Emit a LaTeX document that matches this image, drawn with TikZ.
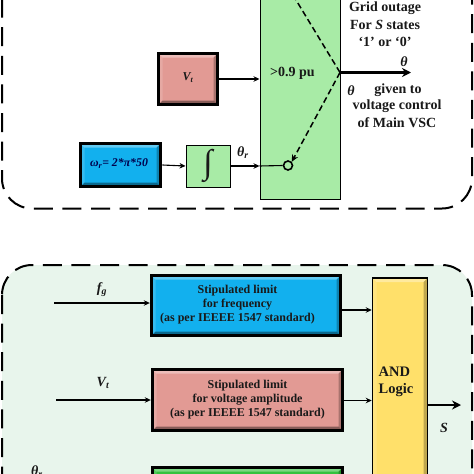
\documentclass[tikz,border=0pt]{standalone}
\usepackage{fontspec}
\setmainfont{Liberation Serif}
\usetikzlibrary{arrows.meta,calc}
\definecolor{panelbg}{HTML}{E8F5EC}
\definecolor{blueb}{HTML}{12B0EE}
\definecolor{pinkb}{HTML}{E29A94}
\definecolor{greenb}{HTML}{A8EBA6}
\definecolor{greenc}{HTML}{33C23F}
\definecolor{yellowb}{HTML}{FFE06A}
\tikzset{
  every node/.style={font=\bfseries\fontsize{12}{14}\selectfont,text=black!90,align=center,inner sep=0pt},
  panel/.style={draw=black,line width=2pt,dash pattern=on 19pt off 9.6pt,rounded corners=30pt},
  bevel/.style={draw=black,line width=#1,
    path picture={
      \fill[white,opacity=.35] (path picture bounding box.north west) -- (path picture bounding box.north east) -- ++(-4pt,-4pt) -- ($(path picture bounding box.north west)+(4pt,-4pt)$) -- cycle;
      \fill[white,opacity=.15] (path picture bounding box.north west) -- (path picture bounding box.south west) -- ++(4pt,4pt) -- ($(path picture bounding box.north west)+(4pt,-4pt)$) -- cycle;
      \fill[black,opacity=.4] (path picture bounding box.south west) -- (path picture bounding box.south east) -- ++(-4pt,4pt) -- ($(path picture bounding box.south west)+(4pt,4pt)$) -- cycle;
      \fill[black,opacity=.25] (path picture bounding box.north east) -- (path picture bounding box.south east) -- ++(-4pt,4pt) -- ($(path picture bounding box.north east)+(-4pt,-4pt)$) -- cycle;
    }},
  conn/.style={draw=black,line width=1.1pt,-{Stealth[length=6pt,width=5.5pt]}},
  thick conn/.style={draw=black,line width=2.6pt,-{Stealth[length=9pt,width=9pt]}},
  dconn/.style={draw=black,line width=1.5pt,dash pattern=on 6pt off 3.4pt},
  sym/.style={font=\bfseries\itshape\fontsize{14}{14}\selectfont},
  tag/.style={font=\bfseries\fontsize{14}{16.5}\selectfont},
}
\begin{document}
\begin{tikzpicture}[x=1pt,y=-1pt]
\clip (0,0) rectangle (474,474);
\fill[white] (0,0) rectangle (474,474);
% panels
\draw[panel] (2,-60) rectangle (472,208.5);
\draw[panel,fill=panelbg] (2,265) rectangle (472,560);
% upper panel
\node[minimum width=80pt,minimum height=259pt,draw=black,line width=1pt,fill=greenb] (cmp) at (300,70) {};
\node[minimum width=59pt,minimum height=51pt,fill=pinkb,bevel=3.4pt,font=\bfseries\itshape\fontsize{12}{14}\selectfont] (vt) at (188,79) {\raisebox{5pt}{V\textsubscript{t}}};
\node[minimum width=80pt,minimum height=43pt,fill=blueb,bevel=3.8pt,font=\bfseries\itshape\fontsize{11.8}{13}\selectfont,text=black!70!blue] (om) at (120.5,165) {\raisebox{4pt}{\hspace*{-3pt}ω\textsubscript{r}= 2*π*50}};
\node[minimum width=44pt,minimum height=42pt,draw=black,line width=1pt,fill=greenb] (int) at (208,166) {\fontsize{34}{34}\selectfont\rmfamily\bfseries ∫};
\node[tag] (gt) at (292.5,73) {>0.9 pu};
\coordinate (sw) at (340,72.5);
\coordinate (up) at (296,0);
\node[circle,draw=black,line width=1.6pt,minimum size=9pt,fill=greenb] (cir) at (288,165.5) {};
\draw[conn] (vt.east) -- (cmp.west |- vt.east);
\draw[conn] (om.east) -- (int.west);
\draw[conn] (int.east) -- (cmp.west |- int.east);
\draw[draw=black,line width=1.1pt] (cmp.west |- int.east) -- (cir.west);
\draw[dconn] (sw) -- (up);
\draw[dconn,-{Stealth[length=7pt,width=6.5pt]}] (sw) -- (cir.north east);
\coordinate (outa) at (411,72.5);
\draw[thick conn] (sw) -- (outa);
\node[tag] (t1) at (385,8.5) {Grid outage};
\node[tag] (t2) at (385,25) {For \textit{S} states};
\node[tag] (t3) at (385,41.5) {‘1’ or ‘0’};
\node[sym] (th1) at (404,62) {θ};
\node[sym] (th2) at (351,91) {θ};
\node[tag] (t4) at (398,90) {given to};
\node[tag] (t5) at (397,106.5) {voltage control};
\node[tag] (t6) at (397,123) {of  Main VSC};
\node[sym] (thr) at (243,153) {θ\textsubscript{r}};
% lower panel
\node[minimum width=189pt,minimum height=60pt,fill=blueb,bevel=3.4pt] (lf) at (246,305.5) {};
\node (lft) at (237.5,305) {Stipulated limit\\for frequency\\(as per IEEEE 1547 standard)};
\node[minimum width=190pt,minimum height=61pt,fill=pinkb,bevel=3.4pt] (lv) at (247.5,400) {Stipulated limit\\for voltage amplitude\\(as per IEEEE 1547 standard)};
\node[minimum width=190pt,minimum height=61pt,fill=greenc,bevel=3.4pt] (lt) at (247.5,498) {};
\node[minimum width=55pt,minimum height=260pt,fill=yellowb,bevel=1.5pt] (andb) at (400,408) {};
\node[font=\bfseries\fontsize{14.5}{17}\selectfont,align=left] (andt) at (396,381.5) {AND\\Logic};
\coordinate (fin) at (54,303);
\coordinate (vin) at (56,400);
\coordinate (fo) at (342,310);
\coordinate (vo) at (344,400.5);
\draw[conn] (fin) -- (fin -| lf.west);
\draw[conn] (vin) -- (vin -| lv.west);
\draw[conn] (fo) -- (fo -| andb.west);
\draw[conn] (vo) -- (vo -| andb.west);
\coordinate (sout) at (461,405);
\draw[thick conn] (sout -| andb.east) -- (sout);
\node[sym] (fg) at (102,290) {f\textsubscript{g}};
\node[sym] (vl) at (103,383) {V\textsubscript{t}};
\node[sym] (sl) at (444,428) {S};
\node[sym] (tl) at (37,472) {θ\textsubscript{r}};
\end{tikzpicture}
\end{document}
